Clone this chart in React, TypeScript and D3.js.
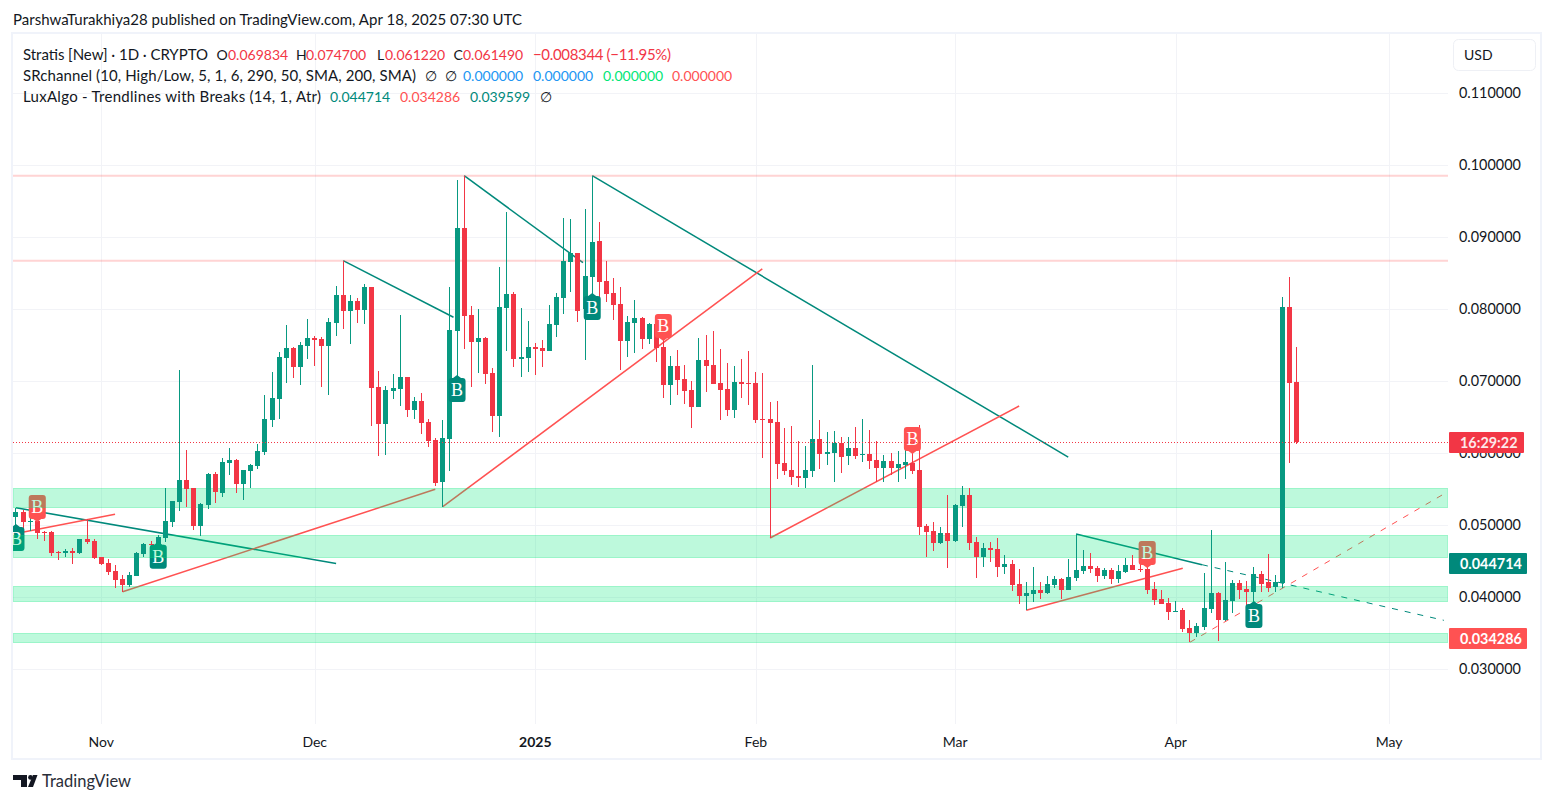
/**
 * Stratis [New] 1D candles with SR zones and LuxAlgo trendlines, TradingView snapshot.
 */
import * as d3 from 'd3';
import { useEffect, useRef } from 'react';

const WIDTH = 1553;
const HEIGHT = 803;
const UP = '#089981';
const DOWN = '#F23645';
const TEAL = '#00897B';
const CORAL = '#FF5252';
const TEXT = '#131722';
const FONT = 'Lato, "Noto Sans", sans-serif';

// daily bars, first one is Oct 20 2024, last one Apr 18 2025
const opens = [
  0.05115, 0.0518, 0.05041, 0.05055, 0.04907, 0.04902, 0.04629, 0.04615, 0.04638, 0.04615,
  0.04805, 0.04777, 0.0455, 0.04472, 0.0436, 0.04249, 0.04171, 0.04296, 0.04601, 0.0474,
  0.04712, 0.04823, 0.05046, 0.05323, 0.05624, 0.05513, 0.0499, 0.05282, 0.05708, 0.05448,
  0.05865, 0.05902, 0.05573, 0.05754, 0.05819, 0.06013, 0.06462, 0.06754, 0.07324, 0.07458,
  0.07198, 0.07485, 0.07597, 0.07583, 0.07485, 0.07805, 0.08194, 0.07972, 0.08111, 0.07985,
  0.08305, 0.06916, 0.06402, 0.0686, 0.06888, 0.07055, 0.06596, 0.06722, 0.0643, 0.0618,
  0.05596, 0.06194, 0.07694, 0.09124, 0.07916, 0.07541, 0.07597, 0.0711, 0.06513, 0.08013,
  0.08208, 0.07305, 0.07319, 0.07472, 0.07458, 0.07416, 0.07777, 0.08152, 0.08652, 0.08777,
  0.07999, 0.08444, 0.08944, 0.08388, 0.08222, 0.08069, 0.07555, 0.07805, 0.07874, 0.07583,
  0.07791, 0.07472, 0.06944, 0.07208, 0.07027, 0.06874, 0.06638, 0.07291, 0.07222, 0.06972,
  0.06888, 0.06596, 0.06985, 0.06972, 0.06972, 0.06471, 0.06471, 0.0643, 0.05861, 0.05763,
  0.0568, 0.05652, 0.05749, 0.06194, 0.05986, 0.05999, 0.06138, 0.05958, 0.06069, 0.05976,
  0.05986, 0.05902, 0.05791, 0.05888, 0.05791, 0.05833, 0.05861, 0.05763, 0.04985, 0.04916,
  0.04749, 0.04888, 0.04777, 0.05263, 0.05416, 0.04763, 0.04555, 0.0468, 0.04666, 0.04417,
  0.04458, 0.0418, 0.04014, 0.04042, 0.04097, 0.04055, 0.04167, 0.0425, 0.04097, 0.04264,
  0.04361, 0.0443, 0.04403, 0.04292, 0.04375, 0.0425, 0.04347, 0.04444, 0.04389, 0.04389,
  0.04111, 0.03972, 0.03917, 0.03792, 0.03819, 0.03569, 0.035, 0.03583, 0.03833, 0.04055,
  0.0368, 0.03944, 0.04194, 0.04111, 0.04069, 0.04319, 0.04208, 0.04139, 0.04199, 0.08028,
  0.069834,
];
const highs = [
  0.05231, 0.05208, 0.05185, 0.05078, 0.04916, 0.04911, 0.04634, 0.04671, 0.04675, 0.04805,
  0.05078, 0.04805, 0.04559, 0.04527, 0.04444, 0.043, 0.04342, 0.04624, 0.04749, 0.04777,
  0.0486, 0.05513, 0.05333, 0.07148, 0.06041, 0.05513, 0.053, 0.05722, 0.05736, 0.0593,
  0.06069, 0.05916, 0.05763, 0.05847, 0.06124, 0.06805, 0.07125, 0.07402, 0.07777, 0.07472,
  0.07541, 0.0786, 0.07624, 0.0761, 0.07874, 0.08319, 0.08666, 0.08194, 0.08152, 0.08347,
  0.08305, 0.07138, 0.0693, 0.07097, 0.07916, 0.07055, 0.06777, 0.06833, 0.06471, 0.06208,
  0.06458, 0.08305, 0.09791, 0.09847, 0.08041, 0.07999, 0.0761, 0.0718, 0.08583, 0.09347,
  0.08236, 0.08013, 0.07833, 0.07527, 0.07569, 0.08055, 0.08222, 0.09263, 0.09249, 0.08777,
  0.09388, 0.09847, 0.09208, 0.08666, 0.0843, 0.08305, 0.07902, 0.08124, 0.07888, 0.07805,
  0.07791, 0.07569, 0.07347, 0.0743, 0.07222, 0.06999, 0.07597, 0.07638, 0.07694, 0.07444,
  0.07249, 0.07208, 0.07305, 0.07416, 0.07124, 0.0711, 0.06708, 0.06722, 0.06347, 0.06374,
  0.06166, 0.06097, 0.07222, 0.06458, 0.06291, 0.06305, 0.06222, 0.06222, 0.06361, 0.06472,
  0.06319, 0.06166, 0.05972, 0.05999, 0.06027, 0.06041, 0.06013, 0.06388, 0.05013, 0.05041,
  0.04972, 0.05416, 0.05291, 0.05541, 0.05513, 0.04833, 0.04749, 0.04763, 0.04819, 0.04583,
  0.04514, 0.04389, 0.04208, 0.04417, 0.04208, 0.04292, 0.04292, 0.04264, 0.04528, 0.04875,
  0.04653, 0.04611, 0.0443, 0.04403, 0.04403, 0.04444, 0.04542, 0.04583, 0.04514, 0.0443,
  0.04208, 0.04097, 0.03986, 0.03944, 0.03847, 0.0368, 0.03639, 0.04333, 0.0493, 0.04069,
  0.04486, 0.04236, 0.04236, 0.04222, 0.04417, 0.04361, 0.04597, 0.04305, 0.08167, 0.08445,
  0.0747,
];
const lows = [
  0.04999, 0.04939, 0.04916, 0.0481, 0.04782, 0.04573, 0.04513, 0.04559, 0.04462, 0.04601,
  0.0474, 0.04527, 0.04448, 0.04309, 0.04129, 0.04073, 0.04143, 0.04296, 0.04559, 0.04601,
  0.04698, 0.04768, 0.04976, 0.05198, 0.05254, 0.04935, 0.04851, 0.05226, 0.0531, 0.05393,
  0.05698, 0.05448, 0.05351, 0.05513, 0.05782, 0.05976, 0.06365, 0.06476, 0.06976, 0.07046,
  0.06944, 0.07305, 0.07208, 0.06916, 0.06805, 0.07624, 0.07722, 0.07513, 0.07805, 0.07791,
  0.06374, 0.05958, 0.05971, 0.06749, 0.06652, 0.06499, 0.06471, 0.06263, 0.06083, 0.05541,
  0.05254, 0.05749, 0.07069, 0.07444, 0.06916, 0.0711, 0.06958, 0.06291, 0.06221, 0.07416,
  0.07194, 0.07055, 0.07124, 0.07083, 0.07194, 0.07416, 0.0761, 0.0793, 0.08236, 0.07819,
  0.07291, 0.08194, 0.07985, 0.08097, 0.07847, 0.07152, 0.07333, 0.07388, 0.07444, 0.07513,
  0.07263, 0.06763, 0.06666, 0.06805, 0.0668, 0.06346, 0.06638, 0.06847, 0.06958, 0.06458,
  0.06513, 0.06485, 0.06763, 0.06666, 0.06416, 0.0593, 0.04819, 0.05638, 0.05694, 0.05555,
  0.05527, 0.05513, 0.05666, 0.05777, 0.05833, 0.05597, 0.05722, 0.05833, 0.05916, 0.05874,
  0.05777, 0.05597, 0.05597, 0.05694, 0.05597, 0.05638, 0.05708, 0.0486, 0.04555, 0.04638,
  0.04735, 0.04402, 0.04763, 0.04972, 0.04652, 0.04263, 0.04416, 0.04485, 0.04277, 0.04319,
  0.04083, 0.03903, 0.03819, 0.0393, 0.03972, 0.04042, 0.04125, 0.03972, 0.04097, 0.04222,
  0.04319, 0.04333, 0.04208, 0.0425, 0.0418, 0.04194, 0.04333, 0.04375, 0.04347, 0.04042,
  0.03889, 0.03903, 0.0368, 0.03792, 0.03514, 0.03375, 0.03444, 0.03541, 0.03778, 0.03389,
  0.03667, 0.03778, 0.03972, 0.03889, 0.0393, 0.04069, 0.04069, 0.04069, 0.04125, 0.05861,
  0.06122,
];
const closes = [
  0.0518, 0.05046, 0.0505, 0.04893, 0.04893, 0.04615, 0.04615, 0.04643, 0.04615, 0.04805,
  0.04768, 0.04546, 0.04462, 0.04351, 0.0424, 0.04171, 0.04305, 0.0461, 0.04735, 0.04731,
  0.04833, 0.05055, 0.05333, 0.05624, 0.05504, 0.0499, 0.05291, 0.05708, 0.05462, 0.05874,
  0.05902, 0.05573, 0.05763, 0.05833, 0.06027, 0.06472, 0.06763, 0.07333, 0.07458, 0.07199,
  0.07499, 0.07597, 0.07569, 0.07485, 0.07819, 0.08194, 0.07972, 0.08111, 0.07985, 0.08305,
  0.06902, 0.06402, 0.06874, 0.06902, 0.07055, 0.06596, 0.06722, 0.06416, 0.06166, 0.05583,
  0.06208, 0.07708, 0.09124, 0.07902, 0.07541, 0.07597, 0.07097, 0.06513, 0.08027, 0.08208,
  0.07305, 0.07333, 0.07472, 0.07444, 0.07416, 0.07791, 0.08166, 0.08666, 0.08777, 0.07972,
  0.08458, 0.0893, 0.08374, 0.08208, 0.08055, 0.07555, 0.07819, 0.07874, 0.07583, 0.07791,
  0.07458, 0.06944, 0.07208, 0.07013, 0.0686, 0.06638, 0.07291, 0.07208, 0.06958, 0.06874,
  0.06596, 0.06985, 0.06958, 0.06963, 0.06458, 0.06458, 0.06416, 0.05847, 0.05749, 0.05666,
  0.05652, 0.05763, 0.06194, 0.05986, 0.06013, 0.06138, 0.05944, 0.06069, 0.05958, 0.05986,
  0.05888, 0.05791, 0.05888, 0.05791, 0.05847, 0.05874, 0.05749, 0.04972, 0.04902, 0.04749,
  0.04888, 0.04777, 0.05277, 0.05416, 0.04749, 0.04555, 0.0468, 0.04652, 0.04416, 0.04458,
  0.04167, 0.04014, 0.04055, 0.04097, 0.04055, 0.0418, 0.0425, 0.04097, 0.04278, 0.04375,
  0.0443, 0.04389, 0.04292, 0.04375, 0.0425, 0.04361, 0.04444, 0.04375, 0.0438, 0.04097,
  0.03958, 0.03903, 0.03792, 0.03805, 0.03555, 0.035, 0.03597, 0.03847, 0.04055, 0.0368,
  0.03958, 0.04194, 0.04097, 0.04069, 0.04319, 0.0418, 0.04125, 0.04208, 0.08028, 0.06973,
  0.06149,
];

const priceTicks = [0.03, 0.04, 0.05, 0.06, 0.07, 0.08, 0.09, 0.1, 0.11];
// bar index of the first day of each month
const monthLabels = ['Nov', 'Dec', '2025', 'Feb', 'Mar', 'Apr', 'May'];
const monthBars = [12, 42, 73, 104, 132, 163, 193];

const lastClose = 0.06149;
const resistanceLevels = [0.09851, 0.08671];
const zoneTops = [0.0551, 0.04862, 0.04153, 0.03496];
const zoneBottoms = [0.05246, 0.04552, 0.0394, 0.0338];

// trendlines: [bar, price, bar, price]
const tealLines = [
  [0, 0.0524, 45, 0.04464],
  [46, 0.08671, 61.5, 0.07885],
  [63, 0.09851, 79.7, 0.08643],
  [81, 0.09851, 147.9, 0.05944],
  [149, 0.04875, 166.7, 0.04449],
];
const tealDashed = [[166.7, 0.04449, 200.7, 0.03676]];
const coralLines = [
  [1.1, 0.04903, 13.93, 0.05149],
  [15, 0.04074, 58.94, 0.05496],
  [60, 0.05254, 104.9, 0.08556],
  [106, 0.04819, 141, 0.06653],
  [142, 0.03815, 164, 0.04399],
];
const coralDashed = [[165, 0.03371, 200.7, 0.05431]];

// break labels: bar and the price the pointer touches
const buyBars = [0, 20, 62, 81, 174];
const buyPrices = [0.05014, 0.04768, 0.07083, 0.08222, 0.03944];
const sellBars = [3, 91, 126, 159];
const sellPrices = [0.05042, 0.07556, 0.05986, 0.04403];

// text, x, colour, width the text has to fill (names only, the fallback font runs narrow)
const legendRows = [
  [
    ['Stratis [New] · 1D · CRYPTO', 23, TEXT, 185],
    ['O', 216.5, TEXT], ['0.069834', 228, DOWN],
    ['H', 296, TEXT], ['0.074700', 306, DOWN],
    ['L', 377, TEXT], ['0.061220', 385, DOWN],
    ['C', 453.5, TEXT], ['0.061490', 463, DOWN],
    ['−0.008344 (−11.95%)', 533, DOWN, 138],
  ],
  [
    ['SRchannel (10, High/Low, 5, 1, 6, 290, 50, SMA, 200, SMA)', 23, TEXT, 393],
    ['∅', 425, TEXT], ['∅', 445, TEXT],
    ['0.000000', 463, '#2196F3'], ['0.000000', 533, '#2196F3'],
    ['0.000000', 603, '#00E676'], ['0.000000', 672, CORAL],
  ],
  [
    ['LuxAlgo - Trendlines with Breaks (14, 1, Atr)', 23, TEXT, 298],
    ['0.044714', 330, TEAL], ['0.034286', 400, CORAL], ['0.039599', 470, TEAL],
    ['∅', 540, TEXT],
  ],
];

// small rounded box with a pointer on top (up) or at the bottom (down)
function labelPath(cx: number, tip: number, up: boolean) {
  const w = 8.5;
  const h = 24;
  const r = 3;
  const top = up ? tip + 3 : tip - 3 - h;
  const bottom = top + h;
  const p = d3.path();
  p.moveTo(cx - w + r, top);
  if (up) {
    p.lineTo(cx - 4, top);
    p.lineTo(cx, tip);
    p.lineTo(cx + 4, top);
  }
  p.lineTo(cx + w - r, top);
  p.arcTo(cx + w, top, cx + w, top + r, r);
  p.lineTo(cx + w, bottom - r);
  p.arcTo(cx + w, bottom, cx + w - r, bottom, r);
  if (!up) {
    p.lineTo(cx + 4, bottom);
    p.lineTo(cx, tip);
    p.lineTo(cx - 4, bottom);
  }
  p.lineTo(cx - w + r, bottom);
  p.arcTo(cx - w, bottom, cx - w, bottom - r, r);
  p.lineTo(cx - w, top + r);
  p.arcTo(cx - w, top, cx - w + r, top, r);
  p.closePath();
  return { d: p.toString(), mid: (top + bottom) / 2 };
}

export default function App() {
  const svgRef = useRef<SVGSVGElement>(null);

  useEffect(() => {
    if (!svgRef.current) return;
    const svg = d3.select(svgRef.current);
    svg.selectAll('*').remove();

    const plot = { left: 13, right: 1448, top: 34, bottom: 724 };
    const x = d3.scaleLinear().domain([12, 193]).range([101.3, 1389.1]);
    const y = d3.scaleLinear().domain([0.03, 0.11]).range([669, 93]);

    const defs = svg.append('defs');
    defs.append('clipPath').attr('id', 'plot-clip').append('rect')
      .attr('x', plot.left).attr('y', plot.top)
      .attr('width', plot.right - plot.left).attr('height', plot.bottom - plot.top);

    svg.append('rect').attr('width', WIDTH).attr('height', HEIGHT).attr('fill', '#fff');

    // Grid
    const grid = svg.append('g').attr('stroke', '#f2f3f7').attr('shape-rendering', 'crispEdges');
    grid.selectAll('.h').data(priceTicks).join('line').attr('class', 'h')
      .attr('x1', plot.left).attr('x2', plot.right)
      .attr('y1', (d) => y(d)).attr('y2', (d) => y(d));
    grid.selectAll('.v').data(monthBars).join('line').attr('class', 'v')
      .attr('y1', plot.top).attr('y2', plot.bottom)
      .attr('x1', (d) => Math.round(x(d))).attr('x2', (d) => Math.round(x(d)));

    // Pane frame
    svg.append('rect').attr('x', 12).attr('y', 33).attr('width', 1529).attr('height', 726)
      .attr('fill', 'none').attr('stroke', '#f0f3fa').attr('stroke-width', 2);

    const chart = svg.append('g').attr('clip-path', 'url(#plot-clip)');

    // Trendlines go under the zones
    const drawLines = (rows: number[][], color: string, width: number, dash?: string) => {
      chart.append('g').selectAll('line').data(rows).join('line')
        .attr('x1', (d) => x(d[0])).attr('y1', (d) => y(d[1]))
        .attr('x2', (d) => x(d[2])).attr('y2', (d) => y(d[3]))
        .attr('stroke', color).attr('stroke-width', width)
        .attr('stroke-dasharray', dash ?? null);
    };
    drawLines(tealLines, TEAL, 1.5);
    drawLines(tealDashed, TEAL, 1, '6 7');
    drawLines(coralLines, CORAL, 1.5);
    drawLines(coralDashed, CORAL, 1, '6 7');

    // SR zones
    const drawZones = (parent: d3.Selection<SVGGElement, unknown, null, undefined>) => {
      parent.selectAll('rect').data(zoneTops).join('rect')
        .attr('x', plot.left).attr('width', plot.right - plot.left)
        .attr('y', (d) => Math.round(y(d)) + 0.5)
        .attr('height', (d, i) => Math.round(y(zoneBottoms[i])) - Math.round(y(d)))
        .attr('fill', 'rgba(0,230,118,0.26)')
        .attr('stroke', 'rgba(0,230,118,0.3)');
    };
    drawZones(chart.append('g'));

    chart.append('g').selectAll('line').data(resistanceLevels).join('line')
      .attr('x1', plot.left).attr('x2', plot.right)
      .attr('y1', (d) => y(d)).attr('y2', (d) => y(d))
      .attr('stroke', 'rgba(255,82,82,0.25)').attr('stroke-width', 2);

    // Candles
    const candles = chart.append('g').attr('shape-rendering', 'crispEdges');
    const bars = d3.range(opens.length);
    const barColor = (i: number) => (closes[i] >= opens[i] ? UP : DOWN);
    candles.selectAll('.wick').data(bars).join('rect').attr('class', 'wick')
      .attr('x', (i) => Math.floor(x(i)))
      .attr('width', 1)
      .attr('y', (i) => Math.round(y(highs[i])))
      .attr('height', (i) => Math.max(1, Math.round(y(lows[i])) - Math.round(y(highs[i]))))
      .attr('fill', barColor);
    candles.selectAll('.body').data(bars).join('rect').attr('class', 'body')
      .attr('x', (i) => Math.floor(x(i)) - 2)
      .attr('width', 5)
      .attr('y', (i) => Math.round(y(Math.max(opens[i], closes[i]))))
      .attr('height', (i) =>
        Math.max(1, Math.round(y(Math.min(opens[i], closes[i]))) - Math.round(y(Math.max(opens[i], closes[i])))))
      .attr('fill', barColor);

    // Break labels sit over the candles but the zones still tint them
    const labels = [
      ...buyBars.map((b, i) => ({ ...labelPath(x(b), y(buyPrices[i]), true), fill: TEAL })),
      ...sellBars.map((b, i) => ({ ...labelPath(x(b), y(sellPrices[i]), false), fill: CORAL })),
    ];
    const labelCx = [...buyBars, ...sellBars].map((b) => x(b));
    const labelG = chart.append('g');
    labelG.selectAll('path').data(labels).join('path')
      .attr('d', (d) => d.d).attr('fill', (d) => d.fill);
    labelG.selectAll('text').data(labels).join('text')
      .attr('x', (d, i) => labelCx[i]).attr('y', (d) => d.mid + 6)
      .attr('text-anchor', 'middle').attr('fill', '#fff')
      .attr('font-family', '"Liberation Serif", serif').attr('font-size', 18)
      .text('B');
    defs.append('clipPath').attr('id', 'label-clip').selectAll('path').data(labels).join('path')
      .attr('d', (d) => d.d);
    drawZones(chart.append('g').attr('clip-path', 'url(#label-clip)'));

    // Last price line
    chart.append('line')
      .attr('x1', plot.left).attr('x2', plot.right)
      .attr('y1', Math.round(y(lastClose)) + 0.5).attr('y2', Math.round(y(lastClose)) + 0.5)
      .attr('stroke', DOWN).attr('stroke-dasharray', '1 2');

    // Price axis
    const axisRight = svg.append('g').attr('font-family', FONT).attr('font-size', 14.4).attr('fill', TEXT);
    axisRight.selectAll('text').data(priceTicks).join('text')
      .attr('x', 1459).attr('y', (d) => y(d) + 5)
      .text((d) => d.toFixed(6));

    svg.append('rect').attr('x', 1453.5).attr('y', 39.5).attr('width', 82).attr('height', 31).attr('rx', 5)
      .attr('fill', '#fff').attr('stroke', '#eef0f5');
    svg.append('text').attr('x', 1464).attr('y', 60).attr('font-family', FONT).attr('font-size', 14)
      .attr('fill', TEXT).text('USD');

    // Price tags
    const tags = [
      { text: '16:29:22', value: lastClose, fill: DOWN, w: 75, color: '#fde8ea' },
      { text: '0.044714', value: 0.044714, fill: TEAL, w: 78, color: '#fff' },
      { text: '0.034286', value: 0.034286, fill: CORAL, w: 78, color: '#fff' },
    ];
    const tagG = svg.append('g').attr('font-family', FONT).attr('font-size', 14.4).attr('font-weight', 700);
    tagG.selectAll('rect').data(tags).join('rect')
      .attr('x', 1449).attr('width', (d) => d.w).attr('height', 21)
      .attr('y', (d) => Math.round(y(d.value)) - 10)
      .attr('rx', 1)
      .attr('fill', (d) => d.fill);
    tagG.selectAll('text').data(tags).join('text')
      .attr('x', 1460).attr('y', (d) => Math.round(y(d.value)) + 5.5)
      .attr('fill', (d) => d.color)
      .text((d) => d.text);

    // Time axis
    svg.append('g').attr('font-family', FONT).attr('font-size', 14).attr('fill', TEXT)
      .selectAll('text').data(monthBars).join('text')
      .attr('x', (d) => x(d)).attr('y', 747).attr('text-anchor', 'middle')
      .attr('font-weight', (d, i) => (monthLabels[i] === '2025' ? 700 : 400))
      .text((d, i) => monthLabels[i]);

    // Legend
    const legend = svg.append('g').attr('font-family', FONT).attr('font-size', 14.5);
    legendRows.forEach((row, r) => {
      legend.append('g').selectAll('text').data(row).join('text')
        .attr('x', (d) => d[1] as number).attr('y', 59.5 + r * 21)
        .attr('fill', (d) => d[2] as string)
        .attr('font-size', (d) => (d[3] ? 15 : 14))
        .attr('textLength', (d) => (d[3] ? (d[3] as number) : null))
        .text((d) => d[0] as string);
    });

    // Header and footer
    svg.append('text').attr('x', 13).attr('y', 25).attr('font-family', FONT).attr('font-size', 15)
      .attr('textLength', 509).attr('fill', TEXT)
      .text('ParshwaTurakhiya28 published on TradingView.com, Apr 18, 2025 07:30 UTC');
    const logo = svg.append('g').attr('transform', 'translate(13,775)').attr('fill', TEXT);
    logo.append('path').attr('d', 'M0 0H14V12H8V5H0Z');
    logo.append('circle').attr('cx', 17.5).attr('cy', 2.4).attr('r', 2.4);
    logo.append('path').attr('d', 'M20 0H24.5L20 12H15Z');
    svg.append('text').attr('x', 42).attr('y', 787).attr('font-family', FONT).attr('font-size', 16.5)
      .attr('fill', '#2a2e39').text('TradingView');
  }, []);

  return <svg ref={svgRef} width={WIDTH} height={HEIGHT} style={{ position: 'absolute', left: 0, top: 0 }} />;
}
